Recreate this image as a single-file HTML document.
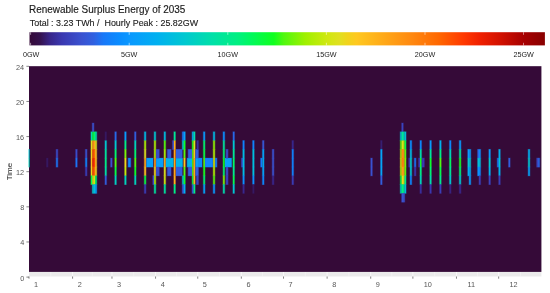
<!DOCTYPE html>
<html><head><meta charset="utf-8"><title>Renewable Surplus Energy of 2035</title>
<style>
html,body{margin:0;padding:0;background:#fff;}
body{width:550px;height:293px;overflow:hidden;font-family:"Liberation Sans",sans-serif;}
svg{display:block}
svg text{font-family:"Liberation Sans",sans-serif;}
</style></head>
<body>
<svg width="550" height="293" viewBox="0 0 550 293">
<defs><linearGradient id="tb" x1="0" y1="0" x2="1" y2="0"><stop offset="0.0000" stop-color="#350a38"/><stop offset="0.0206" stop-color="#35124e"/><stop offset="0.0398" stop-color="#38268a"/><stop offset="0.0628" stop-color="#3a38b0"/><stop offset="0.1012" stop-color="#3a52d0"/><stop offset="0.1243" stop-color="#3060e0"/><stop offset="0.1435" stop-color="#1878f8"/><stop offset="0.1742" stop-color="#0a8cff"/><stop offset="0.1934" stop-color="#0a98ff"/><stop offset="0.2472" stop-color="#00b0f0"/><stop offset="0.3010" stop-color="#00c8d0"/><stop offset="0.3548" stop-color="#00e0a8"/><stop offset="0.4047" stop-color="#00f080"/><stop offset="0.4278" stop-color="#00f860"/><stop offset="0.4739" stop-color="#10ff20"/><stop offset="0.4931" stop-color="#50f810"/><stop offset="0.5354" stop-color="#a0f000"/><stop offset="0.5776" stop-color="#d0e810"/><stop offset="0.6007" stop-color="#e0e020"/><stop offset="0.6160" stop-color="#f0d41c"/><stop offset="0.6352" stop-color="#ffc820"/><stop offset="0.6890" stop-color="#ffa818"/><stop offset="0.7428" stop-color="#ff8810"/><stop offset="0.7927" stop-color="#ff6800"/><stop offset="0.8427" stop-color="#ff3800"/><stop offset="0.8734" stop-color="#f02000"/><stop offset="0.9157" stop-color="#d01000"/><stop offset="0.9579" stop-color="#a80000"/><stop offset="1.0000" stop-color="#880000"/></linearGradient>
<filter id="bl" x="0" y="0" width="550" height="293" filterUnits="userSpaceOnUse"><feGaussianBlur stdDeviation="0.62 0.5"/></filter>
<clipPath id="pc"><rect x="28.4" y="66.2" width="513.0" height="210.3"/></clipPath></defs>
<rect width="550" height="293" fill="#ffffff"/>
<text x="29.0" y="12.7" font-size="10.3" textLength="156.4" lengthAdjust="spacingAndGlyphs" fill="#1a1a1a" stroke="#1a1a1a" stroke-width="0.15">Renewable Surplus Energy of 2035</text>
<text x="29.8" y="26.4" font-size="9.2" textLength="168.3" lengthAdjust="spacingAndGlyphs" fill="#1a1a1a" stroke="#1a1a1a" stroke-width="0.12" xml:space="preserve">Total : 3.23 TWh /  Hourly Peak : 25.82GW</text>
<rect x="29.5" y="32.2" width="515.4" height="13.2" fill="url(#tb)"/>
<g stroke="#ffffff" stroke-width="0.6" opacity="0.9"><line x1="30.60" y1="32.2" x2="30.60" y2="34.8"/><line x1="30.60" y1="42.8" x2="30.60" y2="45.4"/><line x1="129.20" y1="32.2" x2="129.20" y2="34.8"/><line x1="129.20" y1="42.8" x2="129.20" y2="45.4"/><line x1="227.80" y1="32.2" x2="227.80" y2="34.8"/><line x1="227.80" y1="42.8" x2="227.80" y2="45.4"/><line x1="326.40" y1="32.2" x2="326.40" y2="34.8"/><line x1="326.40" y1="42.8" x2="326.40" y2="45.4"/><line x1="425.00" y1="32.2" x2="425.00" y2="34.8"/><line x1="425.00" y1="42.8" x2="425.00" y2="45.4"/><line x1="523.60" y1="32.2" x2="523.60" y2="34.8"/><line x1="523.60" y1="42.8" x2="523.60" y2="45.4"/></g>
<g font-size="7.2" fill="#1a1a1a"><text x="31.10" y="56.7" text-anchor="middle">0GW</text><text x="129.20" y="56.7" text-anchor="middle">5GW</text><text x="227.80" y="56.7" text-anchor="middle">10GW</text><text x="326.40" y="56.7" text-anchor="middle">15GW</text><text x="425.00" y="56.7" text-anchor="middle">20GW</text><text x="523.60" y="56.7" text-anchor="middle">25GW</text></g>
<rect x="29.0" y="66.2" width="512.4" height="210.3" fill="#ebebeb"/>
<g stroke="#ffffff"><line x1="72.59" y1="271.9" x2="72.59" y2="276.50" stroke-width="0.7"/><line x1="111.97" y1="271.9" x2="111.97" y2="276.50" stroke-width="0.7"/><line x1="155.56" y1="271.9" x2="155.56" y2="276.50" stroke-width="0.7"/><line x1="197.74" y1="271.9" x2="197.74" y2="276.50" stroke-width="0.7"/><line x1="241.34" y1="271.9" x2="241.34" y2="276.50" stroke-width="0.7"/><line x1="283.52" y1="271.9" x2="283.52" y2="276.50" stroke-width="0.7"/><line x1="327.11" y1="271.9" x2="327.11" y2="276.50" stroke-width="0.7"/><line x1="370.71" y1="271.9" x2="370.71" y2="276.50" stroke-width="0.7"/><line x1="412.89" y1="271.9" x2="412.89" y2="276.50" stroke-width="0.7"/><line x1="456.48" y1="271.9" x2="456.48" y2="276.50" stroke-width="0.7"/><line x1="498.67" y1="271.9" x2="498.67" y2="276.50" stroke-width="0.7"/><line x1="50.80" y1="271.9" x2="50.80" y2="276.50" stroke-width="0.35"/><line x1="92.28" y1="271.9" x2="92.28" y2="276.50" stroke-width="0.35"/><line x1="133.76" y1="271.9" x2="133.76" y2="276.50" stroke-width="0.35"/><line x1="176.65" y1="271.9" x2="176.65" y2="276.50" stroke-width="0.35"/><line x1="219.54" y1="271.9" x2="219.54" y2="276.50" stroke-width="0.35"/><line x1="262.43" y1="271.9" x2="262.43" y2="276.50" stroke-width="0.35"/><line x1="305.32" y1="271.9" x2="305.32" y2="276.50" stroke-width="0.35"/><line x1="348.91" y1="271.9" x2="348.91" y2="276.50" stroke-width="0.35"/><line x1="391.80" y1="271.9" x2="391.80" y2="276.50" stroke-width="0.35"/><line x1="434.69" y1="271.9" x2="434.69" y2="276.50" stroke-width="0.35"/><line x1="477.58" y1="271.9" x2="477.58" y2="276.50" stroke-width="0.35"/><line x1="520.47" y1="271.9" x2="520.47" y2="276.50" stroke-width="0.35"/></g>
<rect x="29.0" y="66.2" width="512.4" height="205.70" fill="#350a38"/>
<g clip-path="url(#pc)"><g>
<g opacity="0.38"><rect x="145.75" y="157.71" width="7.90" height="9.76" fill="#079ffa"/>
<rect x="155.45" y="157.71" width="8.50" height="9.76" fill="#079ffa"/>
<rect x="165.15" y="157.71" width="9.00" height="9.76" fill="#00b5e9"/>
<rect x="175.35" y="157.71" width="7.90" height="9.76" fill="#00b5e9"/>
<rect x="186.55" y="157.71" width="6.10" height="9.76" fill="#00b5e9"/>
<rect x="194.75" y="157.71" width="4.80" height="9.76" fill="#079ffa"/>
<rect x="198.25" y="157.71" width="4.40" height="9.76" fill="#0c89fe"/>
<rect x="204.45" y="157.71" width="9.00" height="9.76" fill="#1083fc"/>
<rect x="214.65" y="157.71" width="2.80" height="9.76" fill="#1083fc"/>
<rect x="224.35" y="157.71" width="7.90" height="9.76" fill="#079ffa"/>
<rect x="127.55" y="157.71" width="3.70" height="9.76" fill="#0c89fe"/>
<rect x="240.95" y="157.71" width="2.50" height="9.76" fill="#325edd"/>
<rect x="260.05" y="157.71" width="2.80" height="9.76" fill="#157cfa"/>
<rect x="155.45" y="148.94" width="4.40" height="9.76" fill="#3a4bc8"/>
<rect x="155.45" y="166.47" width="4.40" height="9.76" fill="#3a4bc8"/>
<rect x="166.75" y="148.94" width="4.90" height="9.76" fill="#3658d7"/>
<rect x="166.75" y="166.47" width="4.90" height="9.76" fill="#3658d7"/>
<rect x="175.35" y="148.94" width="7.50" height="9.76" fill="#325edd"/>
<rect x="175.35" y="166.47" width="7.50" height="9.76" fill="#325edd"/>
<rect x="187.55" y="148.94" width="5.10" height="9.76" fill="#325edd"/>
<rect x="187.55" y="166.47" width="5.10" height="9.76" fill="#325edd"/>
<rect x="194.75" y="148.94" width="4.30" height="9.76" fill="#325edd"/>
<rect x="194.75" y="166.47" width="4.30" height="9.76" fill="#325edd"/>
<rect x="225.35" y="148.94" width="3.30" height="9.76" fill="#3a44bf"/>
<rect x="225.35" y="166.47" width="3.30" height="9.76" fill="#3a44bf"/>
<rect x="195.75" y="175.23" width="3.30" height="9.76" fill="#3a44bf"/>
<rect x="225.35" y="175.23" width="3.30" height="9.76" fill="#3a3eb7"/>
<rect x="196.25" y="140.18" width="2.80" height="9.76" fill="#392f9d"/>
<rect x="27.90" y="148.94" width="2.10" height="9.76" fill="#00c7d1"/>
<rect x="27.90" y="157.71" width="2.10" height="9.76" fill="#00d4bc"/>
<rect x="45.89" y="157.71" width="2.71" height="9.76" fill="#361962"/>
<rect x="55.62" y="148.94" width="2.71" height="9.76" fill="#3a4bc8"/>
<rect x="55.62" y="157.71" width="2.71" height="9.76" fill="#1c74f4"/>
<rect x="75.08" y="148.94" width="2.71" height="9.76" fill="#3a4bc8"/>
<rect x="75.08" y="157.71" width="2.71" height="9.76" fill="#1c74f4"/>
<rect x="84.81" y="148.94" width="2.71" height="9.76" fill="#3a52d0"/>
<rect x="84.81" y="157.71" width="2.71" height="9.76" fill="#1083fc"/>
<rect x="84.81" y="166.47" width="2.71" height="9.76" fill="#3a3eb7"/>
<rect x="91.73" y="122.66" width="2.71" height="9.76" fill="#3a52d0"/>
<rect x="90.33" y="131.42" width="2.71" height="9.76" fill="#00ddad"/>
<rect x="91.73" y="131.42" width="2.71" height="9.76" fill="#07fb46"/>
<rect x="93.14" y="131.42" width="2.71" height="9.76" fill="#00f861"/>
<rect x="94.54" y="131.42" width="2.71" height="9.76" fill="#00ddad"/>
<rect x="90.33" y="140.18" width="2.71" height="9.76" fill="#dce21c"/>
<rect x="91.73" y="140.18" width="2.71" height="9.76" fill="#ff9914"/>
<rect x="93.14" y="140.18" width="2.71" height="9.76" fill="#ffa517"/>
<rect x="94.54" y="140.18" width="2.71" height="9.76" fill="#dce21c"/>
<rect x="90.33" y="148.94" width="2.71" height="9.76" fill="#efd51c"/>
<rect x="91.73" y="148.94" width="2.71" height="9.76" fill="#ff5500"/>
<rect x="93.14" y="148.94" width="2.71" height="9.76" fill="#ff6800"/>
<rect x="94.54" y="148.94" width="2.71" height="9.76" fill="#ffc31f"/>
<rect x="90.33" y="157.71" width="2.71" height="9.76" fill="#ffc31f"/>
<rect x="91.73" y="157.71" width="2.71" height="9.76" fill="#f62900"/>
<rect x="93.14" y="157.71" width="2.71" height="9.76" fill="#ff4200"/>
<rect x="94.54" y="157.71" width="2.71" height="9.76" fill="#ffbd1d"/>
<rect x="90.33" y="166.47" width="2.71" height="9.76" fill="#efd51c"/>
<rect x="91.73" y="166.47" width="2.71" height="9.76" fill="#ff4c00"/>
<rect x="93.14" y="166.47" width="2.71" height="9.76" fill="#ff6800"/>
<rect x="94.54" y="166.47" width="2.71" height="9.76" fill="#f7cf1e"/>
<rect x="90.33" y="175.23" width="2.71" height="9.76" fill="#07fb46"/>
<rect x="91.73" y="175.23" width="2.71" height="9.76" fill="#dce21c"/>
<rect x="93.14" y="175.23" width="2.71" height="9.76" fill="#cde80f"/>
<rect x="94.54" y="175.23" width="2.71" height="9.76" fill="#00f46f"/>
<rect x="91.73" y="183.99" width="2.71" height="9.76" fill="#00c7d1"/>
<rect x="93.14" y="183.99" width="2.71" height="9.76" fill="#00bedd"/>
<rect x="94.54" y="183.99" width="2.71" height="9.76" fill="#05a4f8"/>
<rect x="104.39" y="131.42" width="2.71" height="9.76" fill="#361962"/>
<rect x="104.39" y="140.18" width="2.71" height="9.76" fill="#00c7d1"/>
<rect x="104.39" y="148.94" width="2.71" height="9.76" fill="#00e49e"/>
<rect x="104.39" y="157.71" width="2.71" height="9.76" fill="#00ee86"/>
<rect x="104.39" y="166.47" width="2.71" height="9.76" fill="#00e1a6"/>
<rect x="104.39" y="175.23" width="2.71" height="9.76" fill="#325edd"/>
<rect x="110.01" y="157.71" width="2.71" height="9.76" fill="#3a52d0"/>
<rect x="114.23" y="131.42" width="2.71" height="9.76" fill="#2868e8"/>
<rect x="114.23" y="140.18" width="2.71" height="9.76" fill="#00c7d1"/>
<rect x="114.23" y="148.94" width="2.71" height="9.76" fill="#00f46f"/>
<rect x="114.23" y="157.71" width="2.71" height="9.76" fill="#56f70f"/>
<rect x="114.23" y="166.47" width="2.71" height="9.76" fill="#07fb46"/>
<rect x="114.23" y="175.23" width="2.71" height="9.76" fill="#00d0c3"/>
<rect x="124.07" y="131.42" width="2.71" height="9.76" fill="#099bfd"/>
<rect x="124.07" y="140.18" width="2.71" height="9.76" fill="#00ee86"/>
<rect x="124.07" y="148.94" width="2.71" height="9.76" fill="#7bf407"/>
<rect x="124.07" y="157.71" width="2.71" height="9.76" fill="#efd51c"/>
<rect x="124.07" y="166.47" width="2.71" height="9.76" fill="#c2ea0b"/>
<rect x="124.07" y="175.23" width="2.71" height="9.76" fill="#00d4bc"/>
<rect x="133.92" y="131.42" width="2.71" height="9.76" fill="#325edd"/>
<rect x="133.92" y="140.18" width="2.71" height="9.76" fill="#00d4bc"/>
<rect x="133.92" y="148.94" width="2.71" height="9.76" fill="#00f46f"/>
<rect x="133.92" y="157.71" width="2.71" height="9.76" fill="#56f70f"/>
<rect x="133.92" y="166.47" width="2.71" height="9.76" fill="#0dfe2a"/>
<rect x="133.92" y="175.23" width="2.71" height="9.76" fill="#00d4bc"/>
<rect x="143.76" y="131.42" width="2.71" height="9.76" fill="#00bae3"/>
<rect x="143.76" y="140.18" width="2.71" height="9.76" fill="#acee04"/>
<rect x="143.76" y="148.94" width="2.71" height="9.76" fill="#dce21c"/>
<rect x="143.76" y="157.71" width="2.71" height="9.76" fill="#ffa517"/>
<rect x="143.76" y="166.47" width="2.71" height="9.76" fill="#ffc31f"/>
<rect x="143.76" y="175.23" width="2.71" height="9.76" fill="#07fb46"/>
<rect x="143.76" y="183.99" width="2.71" height="9.76" fill="#3a3eb7"/>
<rect x="152.20" y="175.23" width="2.71" height="9.76" fill="#3a4bc8"/>
<rect x="153.60" y="131.42" width="2.71" height="9.76" fill="#00c7d1"/>
<rect x="153.60" y="140.18" width="2.71" height="9.76" fill="#acee04"/>
<rect x="153.60" y="148.94" width="2.71" height="9.76" fill="#acee04"/>
<rect x="153.60" y="157.71" width="2.71" height="9.76" fill="#ff9914"/>
<rect x="153.60" y="166.47" width="2.71" height="9.76" fill="#efd51c"/>
<rect x="153.60" y="175.23" width="2.71" height="9.76" fill="#acee04"/>
<rect x="153.60" y="183.99" width="2.71" height="9.76" fill="#00e49e"/>
<rect x="163.45" y="131.42" width="2.71" height="9.76" fill="#00bedd"/>
<rect x="163.45" y="140.18" width="2.71" height="9.76" fill="#56f70f"/>
<rect x="163.45" y="148.94" width="2.71" height="9.76" fill="#acee04"/>
<rect x="163.45" y="157.71" width="2.71" height="9.76" fill="#ffa517"/>
<rect x="163.45" y="166.47" width="2.71" height="9.76" fill="#dce21c"/>
<rect x="163.45" y="175.23" width="2.71" height="9.76" fill="#cde80f"/>
<rect x="163.45" y="183.99" width="2.71" height="9.76" fill="#00e49e"/>
<rect x="171.89" y="140.18" width="2.71" height="9.76" fill="#3a52d0"/>
<rect x="173.29" y="131.42" width="2.71" height="9.76" fill="#00e796"/>
<rect x="173.29" y="140.18" width="2.71" height="9.76" fill="#ffb11a"/>
<rect x="173.29" y="148.94" width="2.71" height="9.76" fill="#ffa517"/>
<rect x="173.29" y="157.71" width="2.71" height="9.76" fill="#ffa517"/>
<rect x="173.29" y="166.47" width="2.71" height="9.76" fill="#ffa517"/>
<rect x="173.29" y="175.23" width="2.71" height="9.76" fill="#ffb11a"/>
<rect x="173.29" y="183.99" width="2.71" height="9.76" fill="#00ee86"/>
<rect x="181.73" y="131.42" width="2.71" height="9.76" fill="#157cfa"/>
<rect x="181.73" y="140.18" width="2.71" height="9.76" fill="#00c7d1"/>
<rect x="181.73" y="175.23" width="2.71" height="9.76" fill="#00c7d1"/>
<rect x="181.73" y="183.99" width="2.71" height="9.76" fill="#325edd"/>
<rect x="183.14" y="131.42" width="2.71" height="9.76" fill="#05a4f8"/>
<rect x="183.14" y="140.18" width="2.71" height="9.76" fill="#0dfe2a"/>
<rect x="183.14" y="148.94" width="2.71" height="9.76" fill="#56f70f"/>
<rect x="183.14" y="157.71" width="2.71" height="9.76" fill="#ffc31f"/>
<rect x="183.14" y="166.47" width="2.71" height="9.76" fill="#56f70f"/>
<rect x="183.14" y="175.23" width="2.71" height="9.76" fill="#0dfe2a"/>
<rect x="183.14" y="183.99" width="2.71" height="9.76" fill="#00b1ef"/>
<rect x="191.57" y="131.42" width="2.71" height="9.76" fill="#00b1ef"/>
<rect x="191.57" y="140.18" width="2.71" height="9.76" fill="#18fe1e"/>
<rect x="191.57" y="148.94" width="2.71" height="9.76" fill="#56f70f"/>
<rect x="191.57" y="157.71" width="2.71" height="9.76" fill="#56f70f"/>
<rect x="191.57" y="166.47" width="2.71" height="9.76" fill="#56f70f"/>
<rect x="191.57" y="175.23" width="2.71" height="9.76" fill="#07fb46"/>
<rect x="191.57" y="183.99" width="2.71" height="9.76" fill="#325edd"/>
<rect x="192.98" y="131.42" width="2.71" height="9.76" fill="#00ddad"/>
<rect x="192.98" y="140.18" width="2.71" height="9.76" fill="#dce21c"/>
<rect x="192.98" y="148.94" width="2.71" height="9.76" fill="#ffc31f"/>
<rect x="192.98" y="157.71" width="2.71" height="9.76" fill="#ff9914"/>
<rect x="192.98" y="166.47" width="2.71" height="9.76" fill="#ffa517"/>
<rect x="192.98" y="175.23" width="2.71" height="9.76" fill="#ffb11a"/>
<rect x="192.98" y="183.99" width="2.71" height="9.76" fill="#00ee86"/>
<rect x="202.82" y="131.42" width="2.71" height="9.76" fill="#099bfd"/>
<rect x="202.82" y="140.18" width="2.71" height="9.76" fill="#00f46f"/>
<rect x="202.82" y="148.94" width="2.71" height="9.76" fill="#07fb46"/>
<rect x="202.82" y="157.71" width="2.71" height="9.76" fill="#56f70f"/>
<rect x="202.82" y="166.47" width="2.71" height="9.76" fill="#18fe1e"/>
<rect x="202.82" y="175.23" width="2.71" height="9.76" fill="#00f46f"/>
<rect x="202.82" y="183.99" width="2.71" height="9.76" fill="#05a4f8"/>
<rect x="212.67" y="131.42" width="2.71" height="9.76" fill="#00bae3"/>
<rect x="212.67" y="140.18" width="2.71" height="9.76" fill="#8ef204"/>
<rect x="212.67" y="148.94" width="2.71" height="9.76" fill="#acee04"/>
<rect x="212.67" y="157.71" width="2.71" height="9.76" fill="#cde80f"/>
<rect x="212.67" y="166.47" width="2.71" height="9.76" fill="#acee04"/>
<rect x="212.67" y="175.23" width="2.71" height="9.76" fill="#56f70f"/>
<rect x="212.67" y="183.99" width="2.71" height="9.76" fill="#099bfd"/>
<rect x="222.51" y="131.42" width="2.71" height="9.76" fill="#0a90ff"/>
<rect x="222.51" y="140.18" width="2.71" height="9.76" fill="#00e49e"/>
<rect x="222.51" y="148.94" width="2.71" height="9.76" fill="#00f46f"/>
<rect x="222.51" y="157.71" width="2.71" height="9.76" fill="#0dfe2a"/>
<rect x="222.51" y="166.47" width="2.71" height="9.76" fill="#00f46f"/>
<rect x="222.51" y="175.23" width="2.71" height="9.76" fill="#7bf407"/>
<rect x="222.51" y="183.99" width="2.71" height="9.76" fill="#00ddad"/>
<rect x="232.35" y="131.42" width="2.71" height="9.76" fill="#2868e8"/>
<rect x="232.35" y="140.18" width="2.71" height="9.76" fill="#00c7d1"/>
<rect x="232.35" y="148.94" width="2.71" height="9.76" fill="#00e796"/>
<rect x="232.35" y="157.71" width="2.71" height="9.76" fill="#00f861"/>
<rect x="232.35" y="166.47" width="2.71" height="9.76" fill="#00ea8e"/>
<rect x="232.35" y="175.23" width="2.71" height="9.76" fill="#03f953"/>
<rect x="232.35" y="183.99" width="2.71" height="9.76" fill="#00c7d1"/>
<rect x="242.20" y="140.18" width="2.71" height="9.76" fill="#1083fc"/>
<rect x="242.20" y="148.94" width="2.71" height="9.76" fill="#00bae3"/>
<rect x="242.20" y="157.71" width="2.71" height="9.76" fill="#00bae3"/>
<rect x="242.20" y="166.47" width="2.71" height="9.76" fill="#00bae3"/>
<rect x="242.20" y="175.23" width="2.71" height="9.76" fill="#0a90ff"/>
<rect x="242.20" y="183.99" width="2.71" height="9.76" fill="#38278d"/>
<rect x="252.04" y="140.18" width="2.71" height="9.76" fill="#1083fc"/>
<rect x="252.04" y="148.94" width="2.71" height="9.76" fill="#00bedd"/>
<rect x="252.04" y="157.71" width="2.71" height="9.76" fill="#00bedd"/>
<rect x="252.04" y="166.47" width="2.71" height="9.76" fill="#00bedd"/>
<rect x="252.04" y="175.23" width="2.71" height="9.76" fill="#0a90ff"/>
<rect x="252.04" y="183.99" width="2.71" height="9.76" fill="#361962"/>
<rect x="261.88" y="140.18" width="2.71" height="9.76" fill="#3658d7"/>
<rect x="261.88" y="148.94" width="2.71" height="9.76" fill="#05a4f8"/>
<rect x="261.88" y="157.71" width="2.71" height="9.76" fill="#01acf2"/>
<rect x="261.88" y="166.47" width="2.71" height="9.76" fill="#05a4f8"/>
<rect x="261.88" y="175.23" width="2.71" height="9.76" fill="#0c89fe"/>
<rect x="271.73" y="148.94" width="2.71" height="9.76" fill="#3a52d0"/>
<rect x="271.73" y="157.71" width="2.71" height="9.76" fill="#3a52d0"/>
<rect x="271.73" y="166.47" width="2.71" height="9.76" fill="#3a52d0"/>
<rect x="271.73" y="175.23" width="2.71" height="9.76" fill="#38278d"/>
<rect x="291.41" y="140.18" width="2.71" height="9.76" fill="#38278d"/>
<rect x="291.41" y="148.94" width="2.71" height="9.76" fill="#1083fc"/>
<rect x="291.41" y="157.71" width="2.71" height="9.76" fill="#1083fc"/>
<rect x="291.41" y="166.47" width="2.71" height="9.76" fill="#1083fc"/>
<rect x="291.41" y="175.23" width="2.71" height="9.76" fill="#3a3eb7"/>
<rect x="370.16" y="157.71" width="2.71" height="9.76" fill="#3a52d0"/>
<rect x="370.16" y="166.47" width="2.71" height="9.76" fill="#3a52d0"/>
<rect x="380.00" y="140.18" width="2.71" height="9.76" fill="#371e71"/>
<rect x="380.00" y="148.94" width="2.71" height="9.76" fill="#05a4f8"/>
<rect x="380.00" y="157.71" width="2.71" height="9.76" fill="#05a4f8"/>
<rect x="380.00" y="166.47" width="2.71" height="9.76" fill="#05a4f8"/>
<rect x="380.00" y="175.23" width="2.71" height="9.76" fill="#325edd"/>
<rect x="401.10" y="122.66" width="2.71" height="9.76" fill="#3a44bf"/>
<rect x="399.69" y="131.42" width="2.71" height="9.76" fill="#00c7d1"/>
<rect x="401.10" y="131.42" width="2.71" height="9.76" fill="#00e796"/>
<rect x="402.50" y="131.42" width="2.71" height="9.76" fill="#00e1a6"/>
<rect x="403.91" y="131.42" width="2.71" height="9.76" fill="#00bedd"/>
<rect x="399.69" y="140.18" width="2.71" height="9.76" fill="#56f70f"/>
<rect x="401.10" y="140.18" width="2.71" height="9.76" fill="#dce21c"/>
<rect x="402.50" y="140.18" width="2.71" height="9.76" fill="#cde80f"/>
<rect x="403.91" y="140.18" width="2.71" height="9.76" fill="#07fb46"/>
<rect x="399.69" y="148.94" width="2.71" height="9.76" fill="#acee04"/>
<rect x="401.10" y="148.94" width="2.71" height="9.76" fill="#ff8810"/>
<rect x="402.50" y="148.94" width="2.71" height="9.76" fill="#ff9914"/>
<rect x="403.91" y="148.94" width="2.71" height="9.76" fill="#56f70f"/>
<rect x="399.69" y="157.71" width="2.71" height="9.76" fill="#cde80f"/>
<rect x="401.10" y="157.71" width="2.71" height="9.76" fill="#ff7b0a"/>
<rect x="402.50" y="157.71" width="2.71" height="9.76" fill="#ff8e11"/>
<rect x="403.91" y="157.71" width="2.71" height="9.76" fill="#7bf407"/>
<rect x="399.69" y="166.47" width="2.71" height="9.76" fill="#acee04"/>
<rect x="401.10" y="166.47" width="2.71" height="9.76" fill="#ff9914"/>
<rect x="402.50" y="166.47" width="2.71" height="9.76" fill="#ffa517"/>
<rect x="403.91" y="166.47" width="2.71" height="9.76" fill="#56f70f"/>
<rect x="399.69" y="175.23" width="2.71" height="9.76" fill="#07fb46"/>
<rect x="401.10" y="175.23" width="2.71" height="9.76" fill="#efd51c"/>
<rect x="402.50" y="175.23" width="2.71" height="9.76" fill="#dce21c"/>
<rect x="403.91" y="175.23" width="2.71" height="9.76" fill="#00ee86"/>
<rect x="399.69" y="183.99" width="2.71" height="9.76" fill="#00d4bc"/>
<rect x="401.10" y="183.99" width="2.71" height="9.76" fill="#00f17d"/>
<rect x="402.50" y="183.99" width="2.71" height="9.76" fill="#00ee86"/>
<rect x="403.91" y="183.99" width="2.71" height="9.76" fill="#00bedd"/>
<rect x="401.10" y="192.76" width="2.71" height="9.76" fill="#3a52d0"/>
<rect x="402.50" y="192.76" width="2.71" height="9.76" fill="#3a52d0"/>
<rect x="408.13" y="157.71" width="2.71" height="9.76" fill="#3a37ae"/>
<rect x="409.53" y="140.18" width="2.71" height="9.76" fill="#0a90ff"/>
<rect x="409.53" y="148.94" width="2.71" height="9.76" fill="#00bae3"/>
<rect x="409.53" y="157.71" width="2.71" height="9.76" fill="#00d0c3"/>
<rect x="409.53" y="166.47" width="2.71" height="9.76" fill="#00c7d1"/>
<rect x="409.53" y="175.23" width="2.71" height="9.76" fill="#0c89fe"/>
<rect x="413.75" y="157.71" width="2.71" height="9.76" fill="#1c74f4"/>
<rect x="413.75" y="166.47" width="2.71" height="9.76" fill="#3a37ae"/>
<rect x="417.97" y="157.71" width="2.71" height="9.76" fill="#3a3ab3"/>
<rect x="420.78" y="157.71" width="2.71" height="9.76" fill="#3a3ab3"/>
<rect x="422.19" y="157.71" width="2.71" height="9.76" fill="#3a3ab3"/>
<rect x="419.38" y="140.18" width="2.71" height="9.76" fill="#0c89fe"/>
<rect x="419.38" y="148.94" width="2.71" height="9.76" fill="#00ddad"/>
<rect x="419.38" y="157.71" width="2.71" height="9.76" fill="#18fe1e"/>
<rect x="419.38" y="166.47" width="2.71" height="9.76" fill="#00ee86"/>
<rect x="419.38" y="175.23" width="2.71" height="9.76" fill="#00d4bc"/>
<rect x="419.38" y="183.99" width="2.71" height="9.76" fill="#392f9d"/>
<rect x="429.22" y="140.18" width="2.71" height="9.76" fill="#099bfd"/>
<rect x="429.22" y="148.94" width="2.71" height="9.76" fill="#00e49e"/>
<rect x="429.22" y="157.71" width="2.71" height="9.76" fill="#0dfe2a"/>
<rect x="429.22" y="166.47" width="2.71" height="9.76" fill="#00f46f"/>
<rect x="429.22" y="175.23" width="2.71" height="9.76" fill="#00ddad"/>
<rect x="429.22" y="183.99" width="2.71" height="9.76" fill="#3a37ae"/>
<rect x="439.06" y="140.18" width="2.71" height="9.76" fill="#00b1ef"/>
<rect x="439.06" y="148.94" width="2.71" height="9.76" fill="#00ee86"/>
<rect x="439.06" y="157.71" width="2.71" height="9.76" fill="#56f70f"/>
<rect x="439.06" y="166.47" width="2.71" height="9.76" fill="#07fb46"/>
<rect x="439.06" y="175.23" width="2.71" height="9.76" fill="#00ea8e"/>
<rect x="439.06" y="183.99" width="2.71" height="9.76" fill="#3a3eb7"/>
<rect x="448.91" y="140.18" width="2.71" height="9.76" fill="#0c89fe"/>
<rect x="448.91" y="148.94" width="2.71" height="9.76" fill="#00d4bc"/>
<rect x="448.91" y="157.71" width="2.71" height="9.76" fill="#00f861"/>
<rect x="448.91" y="166.47" width="2.71" height="9.76" fill="#00e796"/>
<rect x="448.91" y="175.23" width="2.71" height="9.76" fill="#00c7d1"/>
<rect x="448.91" y="183.99" width="2.71" height="9.76" fill="#382380"/>
<rect x="458.75" y="140.18" width="2.71" height="9.76" fill="#099bfd"/>
<rect x="458.75" y="148.94" width="2.71" height="9.76" fill="#00e49e"/>
<rect x="458.75" y="157.71" width="2.71" height="9.76" fill="#18fe1e"/>
<rect x="458.75" y="166.47" width="2.71" height="9.76" fill="#00f46f"/>
<rect x="458.75" y="175.23" width="2.71" height="9.76" fill="#00c7d1"/>
<rect x="458.75" y="183.99" width="2.71" height="9.76" fill="#38278d"/>
<rect x="467.19" y="148.94" width="2.71" height="9.76" fill="#099bfd"/>
<rect x="467.19" y="157.71" width="2.71" height="9.76" fill="#00c7d1"/>
<rect x="467.19" y="166.47" width="2.71" height="9.76" fill="#01acf2"/>
<rect x="468.59" y="148.94" width="2.71" height="9.76" fill="#099bfd"/>
<rect x="468.59" y="157.71" width="2.71" height="9.76" fill="#00c7d1"/>
<rect x="468.59" y="166.47" width="2.71" height="9.76" fill="#01acf2"/>
<rect x="468.59" y="175.23" width="2.71" height="9.76" fill="#099bfd"/>
<rect x="477.03" y="148.94" width="2.71" height="9.76" fill="#2868e8"/>
<rect x="477.03" y="157.71" width="2.71" height="9.76" fill="#00bedd"/>
<rect x="477.03" y="166.47" width="2.71" height="9.76" fill="#0a90ff"/>
<rect x="478.44" y="148.94" width="2.71" height="9.76" fill="#0a90ff"/>
<rect x="478.44" y="157.71" width="2.71" height="9.76" fill="#00bedd"/>
<rect x="478.44" y="166.47" width="2.71" height="9.76" fill="#0a90ff"/>
<rect x="478.44" y="175.23" width="2.71" height="9.76" fill="#3a3eb7"/>
<rect x="488.28" y="148.94" width="2.71" height="9.76" fill="#099bfd"/>
<rect x="488.28" y="157.71" width="2.71" height="9.76" fill="#00c7d1"/>
<rect x="488.28" y="166.47" width="2.71" height="9.76" fill="#00b1ef"/>
<rect x="488.28" y="175.23" width="2.71" height="9.76" fill="#3a44bf"/>
<rect x="496.72" y="157.71" width="2.71" height="9.76" fill="#157cfa"/>
<rect x="498.12" y="148.94" width="2.71" height="9.76" fill="#00b1ef"/>
<rect x="498.12" y="157.71" width="2.71" height="9.76" fill="#00c7d1"/>
<rect x="498.12" y="166.47" width="2.71" height="9.76" fill="#00b1ef"/>
<rect x="498.12" y="175.23" width="2.71" height="9.76" fill="#3a3eb7"/>
<rect x="507.97" y="157.71" width="2.71" height="9.76" fill="#325edd"/>
<rect x="527.65" y="148.94" width="2.71" height="9.76" fill="#00b1ef"/>
<rect x="527.65" y="157.71" width="2.71" height="9.76" fill="#00c7d1"/>
<rect x="527.65" y="166.47" width="2.71" height="9.76" fill="#05a4f8"/>
<rect x="536.09" y="157.71" width="2.71" height="9.76" fill="#3a44bf"/>
<rect x="537.50" y="157.71" width="2.71" height="9.76" fill="#2868e8"/></g>
<rect x="146.40" y="158.06" width="6.60" height="9.06" fill="#079ffa"/>
<rect x="156.10" y="158.06" width="7.20" height="9.06" fill="#079ffa"/>
<rect x="165.80" y="158.06" width="7.70" height="9.06" fill="#00b5e9"/>
<rect x="176.00" y="158.06" width="6.60" height="9.06" fill="#00b5e9"/>
<rect x="187.20" y="158.06" width="4.80" height="9.06" fill="#00b5e9"/>
<rect x="195.40" y="158.06" width="3.50" height="9.06" fill="#079ffa"/>
<rect x="198.90" y="158.06" width="3.10" height="9.06" fill="#0c89fe"/>
<rect x="205.10" y="158.06" width="7.70" height="9.06" fill="#1083fc"/>
<rect x="215.30" y="158.06" width="1.50" height="9.06" fill="#1083fc"/>
<rect x="225.00" y="158.06" width="6.60" height="9.06" fill="#079ffa"/>
<rect x="128.20" y="158.06" width="2.40" height="9.06" fill="#0c89fe"/>
<rect x="241.60" y="158.06" width="1.20" height="9.06" fill="#325edd"/>
<rect x="260.70" y="158.06" width="1.50" height="9.06" fill="#157cfa"/>
<rect x="156.10" y="149.29" width="3.10" height="9.06" fill="#3a4bc8"/>
<rect x="156.10" y="166.82" width="3.10" height="9.06" fill="#3a4bc8"/>
<rect x="167.40" y="149.29" width="3.60" height="9.06" fill="#3658d7"/>
<rect x="167.40" y="166.82" width="3.60" height="9.06" fill="#3658d7"/>
<rect x="176.00" y="149.29" width="6.20" height="9.06" fill="#325edd"/>
<rect x="176.00" y="166.82" width="6.20" height="9.06" fill="#325edd"/>
<rect x="188.20" y="149.29" width="3.80" height="9.06" fill="#325edd"/>
<rect x="188.20" y="166.82" width="3.80" height="9.06" fill="#325edd"/>
<rect x="195.40" y="149.29" width="3.00" height="9.06" fill="#325edd"/>
<rect x="195.40" y="166.82" width="3.00" height="9.06" fill="#325edd"/>
<rect x="226.00" y="149.29" width="2.00" height="9.06" fill="#3a44bf"/>
<rect x="226.00" y="166.82" width="2.00" height="9.06" fill="#3a44bf"/>
<rect x="196.40" y="175.58" width="2.00" height="9.06" fill="#3a44bf"/>
<rect x="226.00" y="175.58" width="2.00" height="9.06" fill="#3a3eb7"/>
<rect x="196.90" y="140.53" width="1.50" height="9.06" fill="#392f9d"/>
<rect x="28.55" y="149.29" width="0.80" height="9.06" fill="#00c7d1"/>
<rect x="28.55" y="158.06" width="0.80" height="9.06" fill="#00d4bc"/>
<rect x="46.54" y="158.06" width="1.41" height="9.06" fill="#361962"/>
<rect x="56.27" y="149.29" width="1.41" height="9.06" fill="#3a4bc8"/>
<rect x="56.27" y="158.06" width="1.41" height="9.06" fill="#1c74f4"/>
<rect x="75.73" y="149.29" width="1.41" height="9.06" fill="#3a4bc8"/>
<rect x="75.73" y="158.06" width="1.41" height="9.06" fill="#1c74f4"/>
<rect x="85.46" y="149.29" width="1.41" height="9.06" fill="#3a52d0"/>
<rect x="85.46" y="158.06" width="1.41" height="9.06" fill="#1083fc"/>
<rect x="85.46" y="166.82" width="1.41" height="9.06" fill="#3a3eb7"/>
<rect x="92.38" y="123.01" width="1.41" height="9.06" fill="#3a52d0"/>
<rect x="90.98" y="131.77" width="1.41" height="9.06" fill="#00ddad"/>
<rect x="92.38" y="131.77" width="1.41" height="9.06" fill="#07fb46"/>
<rect x="93.79" y="131.77" width="1.41" height="9.06" fill="#00f861"/>
<rect x="95.19" y="131.77" width="1.41" height="9.06" fill="#00ddad"/>
<rect x="90.98" y="140.53" width="1.41" height="9.06" fill="#dce21c"/>
<rect x="92.38" y="140.53" width="1.41" height="9.06" fill="#ff9914"/>
<rect x="93.79" y="140.53" width="1.41" height="9.06" fill="#ffa517"/>
<rect x="95.19" y="140.53" width="1.41" height="9.06" fill="#dce21c"/>
<rect x="90.98" y="149.29" width="1.41" height="9.06" fill="#efd51c"/>
<rect x="92.38" y="149.29" width="1.41" height="9.06" fill="#ff5500"/>
<rect x="93.79" y="149.29" width="1.41" height="9.06" fill="#ff6800"/>
<rect x="95.19" y="149.29" width="1.41" height="9.06" fill="#ffc31f"/>
<rect x="90.98" y="158.06" width="1.41" height="9.06" fill="#ffc31f"/>
<rect x="92.38" y="158.06" width="1.41" height="9.06" fill="#f62900"/>
<rect x="93.79" y="158.06" width="1.41" height="9.06" fill="#ff4200"/>
<rect x="95.19" y="158.06" width="1.41" height="9.06" fill="#ffbd1d"/>
<rect x="90.98" y="166.82" width="1.41" height="9.06" fill="#efd51c"/>
<rect x="92.38" y="166.82" width="1.41" height="9.06" fill="#ff4c00"/>
<rect x="93.79" y="166.82" width="1.41" height="9.06" fill="#ff6800"/>
<rect x="95.19" y="166.82" width="1.41" height="9.06" fill="#f7cf1e"/>
<rect x="90.98" y="175.58" width="1.41" height="9.06" fill="#07fb46"/>
<rect x="92.38" y="175.58" width="1.41" height="9.06" fill="#dce21c"/>
<rect x="93.79" y="175.58" width="1.41" height="9.06" fill="#cde80f"/>
<rect x="95.19" y="175.58" width="1.41" height="9.06" fill="#00f46f"/>
<rect x="92.38" y="184.34" width="1.41" height="9.06" fill="#00c7d1"/>
<rect x="93.79" y="184.34" width="1.41" height="9.06" fill="#00bedd"/>
<rect x="95.19" y="184.34" width="1.41" height="9.06" fill="#05a4f8"/>
<rect x="105.04" y="131.77" width="1.41" height="9.06" fill="#361962"/>
<rect x="105.04" y="140.53" width="1.41" height="9.06" fill="#00c7d1"/>
<rect x="105.04" y="149.29" width="1.41" height="9.06" fill="#00e49e"/>
<rect x="105.04" y="158.06" width="1.41" height="9.06" fill="#00ee86"/>
<rect x="105.04" y="166.82" width="1.41" height="9.06" fill="#00e1a6"/>
<rect x="105.04" y="175.58" width="1.41" height="9.06" fill="#325edd"/>
<rect x="110.66" y="158.06" width="1.41" height="9.06" fill="#3a52d0"/>
<rect x="114.88" y="131.77" width="1.41" height="9.06" fill="#2868e8"/>
<rect x="114.88" y="140.53" width="1.41" height="9.06" fill="#00c7d1"/>
<rect x="114.88" y="149.29" width="1.41" height="9.06" fill="#00f46f"/>
<rect x="114.88" y="158.06" width="1.41" height="9.06" fill="#56f70f"/>
<rect x="114.88" y="166.82" width="1.41" height="9.06" fill="#07fb46"/>
<rect x="114.88" y="175.58" width="1.41" height="9.06" fill="#00d0c3"/>
<rect x="124.72" y="131.77" width="1.41" height="9.06" fill="#099bfd"/>
<rect x="124.72" y="140.53" width="1.41" height="9.06" fill="#00ee86"/>
<rect x="124.72" y="149.29" width="1.41" height="9.06" fill="#7bf407"/>
<rect x="124.72" y="158.06" width="1.41" height="9.06" fill="#efd51c"/>
<rect x="124.72" y="166.82" width="1.41" height="9.06" fill="#c2ea0b"/>
<rect x="124.72" y="175.58" width="1.41" height="9.06" fill="#00d4bc"/>
<rect x="134.57" y="131.77" width="1.41" height="9.06" fill="#325edd"/>
<rect x="134.57" y="140.53" width="1.41" height="9.06" fill="#00d4bc"/>
<rect x="134.57" y="149.29" width="1.41" height="9.06" fill="#00f46f"/>
<rect x="134.57" y="158.06" width="1.41" height="9.06" fill="#56f70f"/>
<rect x="134.57" y="166.82" width="1.41" height="9.06" fill="#0dfe2a"/>
<rect x="134.57" y="175.58" width="1.41" height="9.06" fill="#00d4bc"/>
<rect x="144.41" y="131.77" width="1.41" height="9.06" fill="#00bae3"/>
<rect x="144.41" y="140.53" width="1.41" height="9.06" fill="#acee04"/>
<rect x="144.41" y="149.29" width="1.41" height="9.06" fill="#dce21c"/>
<rect x="144.41" y="158.06" width="1.41" height="9.06" fill="#ffa517"/>
<rect x="144.41" y="166.82" width="1.41" height="9.06" fill="#ffc31f"/>
<rect x="144.41" y="175.58" width="1.41" height="9.06" fill="#07fb46"/>
<rect x="144.41" y="184.34" width="1.41" height="9.06" fill="#3a3eb7"/>
<rect x="152.85" y="175.58" width="1.41" height="9.06" fill="#3a4bc8"/>
<rect x="154.25" y="131.77" width="1.41" height="9.06" fill="#00c7d1"/>
<rect x="154.25" y="140.53" width="1.41" height="9.06" fill="#acee04"/>
<rect x="154.25" y="149.29" width="1.41" height="9.06" fill="#acee04"/>
<rect x="154.25" y="158.06" width="1.41" height="9.06" fill="#ff9914"/>
<rect x="154.25" y="166.82" width="1.41" height="9.06" fill="#efd51c"/>
<rect x="154.25" y="175.58" width="1.41" height="9.06" fill="#acee04"/>
<rect x="154.25" y="184.34" width="1.41" height="9.06" fill="#00e49e"/>
<rect x="164.10" y="131.77" width="1.41" height="9.06" fill="#00bedd"/>
<rect x="164.10" y="140.53" width="1.41" height="9.06" fill="#56f70f"/>
<rect x="164.10" y="149.29" width="1.41" height="9.06" fill="#acee04"/>
<rect x="164.10" y="158.06" width="1.41" height="9.06" fill="#ffa517"/>
<rect x="164.10" y="166.82" width="1.41" height="9.06" fill="#dce21c"/>
<rect x="164.10" y="175.58" width="1.41" height="9.06" fill="#cde80f"/>
<rect x="164.10" y="184.34" width="1.41" height="9.06" fill="#00e49e"/>
<rect x="172.54" y="140.53" width="1.41" height="9.06" fill="#3a52d0"/>
<rect x="173.94" y="131.77" width="1.41" height="9.06" fill="#00e796"/>
<rect x="173.94" y="140.53" width="1.41" height="9.06" fill="#ffb11a"/>
<rect x="173.94" y="149.29" width="1.41" height="9.06" fill="#ffa517"/>
<rect x="173.94" y="158.06" width="1.41" height="9.06" fill="#ffa517"/>
<rect x="173.94" y="166.82" width="1.41" height="9.06" fill="#ffa517"/>
<rect x="173.94" y="175.58" width="1.41" height="9.06" fill="#ffb11a"/>
<rect x="173.94" y="184.34" width="1.41" height="9.06" fill="#00ee86"/>
<rect x="182.38" y="131.77" width="1.41" height="9.06" fill="#157cfa"/>
<rect x="182.38" y="140.53" width="1.41" height="9.06" fill="#00c7d1"/>
<rect x="182.38" y="175.58" width="1.41" height="9.06" fill="#00c7d1"/>
<rect x="182.38" y="184.34" width="1.41" height="9.06" fill="#325edd"/>
<rect x="183.79" y="131.77" width="1.41" height="9.06" fill="#05a4f8"/>
<rect x="183.79" y="140.53" width="1.41" height="9.06" fill="#0dfe2a"/>
<rect x="183.79" y="149.29" width="1.41" height="9.06" fill="#56f70f"/>
<rect x="183.79" y="158.06" width="1.41" height="9.06" fill="#ffc31f"/>
<rect x="183.79" y="166.82" width="1.41" height="9.06" fill="#56f70f"/>
<rect x="183.79" y="175.58" width="1.41" height="9.06" fill="#0dfe2a"/>
<rect x="183.79" y="184.34" width="1.41" height="9.06" fill="#00b1ef"/>
<rect x="192.22" y="131.77" width="1.41" height="9.06" fill="#00b1ef"/>
<rect x="192.22" y="140.53" width="1.41" height="9.06" fill="#18fe1e"/>
<rect x="192.22" y="149.29" width="1.41" height="9.06" fill="#56f70f"/>
<rect x="192.22" y="158.06" width="1.41" height="9.06" fill="#56f70f"/>
<rect x="192.22" y="166.82" width="1.41" height="9.06" fill="#56f70f"/>
<rect x="192.22" y="175.58" width="1.41" height="9.06" fill="#07fb46"/>
<rect x="192.22" y="184.34" width="1.41" height="9.06" fill="#325edd"/>
<rect x="193.63" y="131.77" width="1.41" height="9.06" fill="#00ddad"/>
<rect x="193.63" y="140.53" width="1.41" height="9.06" fill="#dce21c"/>
<rect x="193.63" y="149.29" width="1.41" height="9.06" fill="#ffc31f"/>
<rect x="193.63" y="158.06" width="1.41" height="9.06" fill="#ff9914"/>
<rect x="193.63" y="166.82" width="1.41" height="9.06" fill="#ffa517"/>
<rect x="193.63" y="175.58" width="1.41" height="9.06" fill="#ffb11a"/>
<rect x="193.63" y="184.34" width="1.41" height="9.06" fill="#00ee86"/>
<rect x="203.47" y="131.77" width="1.41" height="9.06" fill="#099bfd"/>
<rect x="203.47" y="140.53" width="1.41" height="9.06" fill="#00f46f"/>
<rect x="203.47" y="149.29" width="1.41" height="9.06" fill="#07fb46"/>
<rect x="203.47" y="158.06" width="1.41" height="9.06" fill="#56f70f"/>
<rect x="203.47" y="166.82" width="1.41" height="9.06" fill="#18fe1e"/>
<rect x="203.47" y="175.58" width="1.41" height="9.06" fill="#00f46f"/>
<rect x="203.47" y="184.34" width="1.41" height="9.06" fill="#05a4f8"/>
<rect x="213.32" y="131.77" width="1.41" height="9.06" fill="#00bae3"/>
<rect x="213.32" y="140.53" width="1.41" height="9.06" fill="#8ef204"/>
<rect x="213.32" y="149.29" width="1.41" height="9.06" fill="#acee04"/>
<rect x="213.32" y="158.06" width="1.41" height="9.06" fill="#cde80f"/>
<rect x="213.32" y="166.82" width="1.41" height="9.06" fill="#acee04"/>
<rect x="213.32" y="175.58" width="1.41" height="9.06" fill="#56f70f"/>
<rect x="213.32" y="184.34" width="1.41" height="9.06" fill="#099bfd"/>
<rect x="223.16" y="131.77" width="1.41" height="9.06" fill="#0a90ff"/>
<rect x="223.16" y="140.53" width="1.41" height="9.06" fill="#00e49e"/>
<rect x="223.16" y="149.29" width="1.41" height="9.06" fill="#00f46f"/>
<rect x="223.16" y="158.06" width="1.41" height="9.06" fill="#0dfe2a"/>
<rect x="223.16" y="166.82" width="1.41" height="9.06" fill="#00f46f"/>
<rect x="223.16" y="175.58" width="1.41" height="9.06" fill="#7bf407"/>
<rect x="223.16" y="184.34" width="1.41" height="9.06" fill="#00ddad"/>
<rect x="233.00" y="131.77" width="1.41" height="9.06" fill="#2868e8"/>
<rect x="233.00" y="140.53" width="1.41" height="9.06" fill="#00c7d1"/>
<rect x="233.00" y="149.29" width="1.41" height="9.06" fill="#00e796"/>
<rect x="233.00" y="158.06" width="1.41" height="9.06" fill="#00f861"/>
<rect x="233.00" y="166.82" width="1.41" height="9.06" fill="#00ea8e"/>
<rect x="233.00" y="175.58" width="1.41" height="9.06" fill="#03f953"/>
<rect x="233.00" y="184.34" width="1.41" height="9.06" fill="#00c7d1"/>
<rect x="242.85" y="140.53" width="1.41" height="9.06" fill="#1083fc"/>
<rect x="242.85" y="149.29" width="1.41" height="9.06" fill="#00bae3"/>
<rect x="242.85" y="158.06" width="1.41" height="9.06" fill="#00bae3"/>
<rect x="242.85" y="166.82" width="1.41" height="9.06" fill="#00bae3"/>
<rect x="242.85" y="175.58" width="1.41" height="9.06" fill="#0a90ff"/>
<rect x="242.85" y="184.34" width="1.41" height="9.06" fill="#38278d"/>
<rect x="252.69" y="140.53" width="1.41" height="9.06" fill="#1083fc"/>
<rect x="252.69" y="149.29" width="1.41" height="9.06" fill="#00bedd"/>
<rect x="252.69" y="158.06" width="1.41" height="9.06" fill="#00bedd"/>
<rect x="252.69" y="166.82" width="1.41" height="9.06" fill="#00bedd"/>
<rect x="252.69" y="175.58" width="1.41" height="9.06" fill="#0a90ff"/>
<rect x="252.69" y="184.34" width="1.41" height="9.06" fill="#361962"/>
<rect x="262.53" y="140.53" width="1.41" height="9.06" fill="#3658d7"/>
<rect x="262.53" y="149.29" width="1.41" height="9.06" fill="#05a4f8"/>
<rect x="262.53" y="158.06" width="1.41" height="9.06" fill="#01acf2"/>
<rect x="262.53" y="166.82" width="1.41" height="9.06" fill="#05a4f8"/>
<rect x="262.53" y="175.58" width="1.41" height="9.06" fill="#0c89fe"/>
<rect x="272.38" y="149.29" width="1.41" height="9.06" fill="#3a52d0"/>
<rect x="272.38" y="158.06" width="1.41" height="9.06" fill="#3a52d0"/>
<rect x="272.38" y="166.82" width="1.41" height="9.06" fill="#3a52d0"/>
<rect x="272.38" y="175.58" width="1.41" height="9.06" fill="#38278d"/>
<rect x="292.06" y="140.53" width="1.41" height="9.06" fill="#38278d"/>
<rect x="292.06" y="149.29" width="1.41" height="9.06" fill="#1083fc"/>
<rect x="292.06" y="158.06" width="1.41" height="9.06" fill="#1083fc"/>
<rect x="292.06" y="166.82" width="1.41" height="9.06" fill="#1083fc"/>
<rect x="292.06" y="175.58" width="1.41" height="9.06" fill="#3a3eb7"/>
<rect x="370.81" y="158.06" width="1.41" height="9.06" fill="#3a52d0"/>
<rect x="370.81" y="166.82" width="1.41" height="9.06" fill="#3a52d0"/>
<rect x="380.65" y="140.53" width="1.41" height="9.06" fill="#371e71"/>
<rect x="380.65" y="149.29" width="1.41" height="9.06" fill="#05a4f8"/>
<rect x="380.65" y="158.06" width="1.41" height="9.06" fill="#05a4f8"/>
<rect x="380.65" y="166.82" width="1.41" height="9.06" fill="#05a4f8"/>
<rect x="380.65" y="175.58" width="1.41" height="9.06" fill="#325edd"/>
<rect x="401.75" y="123.01" width="1.41" height="9.06" fill="#3a44bf"/>
<rect x="400.34" y="131.77" width="1.41" height="9.06" fill="#00c7d1"/>
<rect x="401.75" y="131.77" width="1.41" height="9.06" fill="#00e796"/>
<rect x="403.15" y="131.77" width="1.41" height="9.06" fill="#00e1a6"/>
<rect x="404.56" y="131.77" width="1.41" height="9.06" fill="#00bedd"/>
<rect x="400.34" y="140.53" width="1.41" height="9.06" fill="#56f70f"/>
<rect x="401.75" y="140.53" width="1.41" height="9.06" fill="#dce21c"/>
<rect x="403.15" y="140.53" width="1.41" height="9.06" fill="#cde80f"/>
<rect x="404.56" y="140.53" width="1.41" height="9.06" fill="#07fb46"/>
<rect x="400.34" y="149.29" width="1.41" height="9.06" fill="#acee04"/>
<rect x="401.75" y="149.29" width="1.41" height="9.06" fill="#ff8810"/>
<rect x="403.15" y="149.29" width="1.41" height="9.06" fill="#ff9914"/>
<rect x="404.56" y="149.29" width="1.41" height="9.06" fill="#56f70f"/>
<rect x="400.34" y="158.06" width="1.41" height="9.06" fill="#cde80f"/>
<rect x="401.75" y="158.06" width="1.41" height="9.06" fill="#ff7b0a"/>
<rect x="403.15" y="158.06" width="1.41" height="9.06" fill="#ff8e11"/>
<rect x="404.56" y="158.06" width="1.41" height="9.06" fill="#7bf407"/>
<rect x="400.34" y="166.82" width="1.41" height="9.06" fill="#acee04"/>
<rect x="401.75" y="166.82" width="1.41" height="9.06" fill="#ff9914"/>
<rect x="403.15" y="166.82" width="1.41" height="9.06" fill="#ffa517"/>
<rect x="404.56" y="166.82" width="1.41" height="9.06" fill="#56f70f"/>
<rect x="400.34" y="175.58" width="1.41" height="9.06" fill="#07fb46"/>
<rect x="401.75" y="175.58" width="1.41" height="9.06" fill="#efd51c"/>
<rect x="403.15" y="175.58" width="1.41" height="9.06" fill="#dce21c"/>
<rect x="404.56" y="175.58" width="1.41" height="9.06" fill="#00ee86"/>
<rect x="400.34" y="184.34" width="1.41" height="9.06" fill="#00d4bc"/>
<rect x="401.75" y="184.34" width="1.41" height="9.06" fill="#00f17d"/>
<rect x="403.15" y="184.34" width="1.41" height="9.06" fill="#00ee86"/>
<rect x="404.56" y="184.34" width="1.41" height="9.06" fill="#00bedd"/>
<rect x="401.75" y="193.11" width="1.41" height="9.06" fill="#3a52d0"/>
<rect x="403.15" y="193.11" width="1.41" height="9.06" fill="#3a52d0"/>
<rect x="408.78" y="158.06" width="1.41" height="9.06" fill="#3a37ae"/>
<rect x="410.18" y="140.53" width="1.41" height="9.06" fill="#0a90ff"/>
<rect x="410.18" y="149.29" width="1.41" height="9.06" fill="#00bae3"/>
<rect x="410.18" y="158.06" width="1.41" height="9.06" fill="#00d0c3"/>
<rect x="410.18" y="166.82" width="1.41" height="9.06" fill="#00c7d1"/>
<rect x="410.18" y="175.58" width="1.41" height="9.06" fill="#0c89fe"/>
<rect x="414.40" y="158.06" width="1.41" height="9.06" fill="#1c74f4"/>
<rect x="414.40" y="166.82" width="1.41" height="9.06" fill="#3a37ae"/>
<rect x="418.62" y="158.06" width="1.41" height="9.06" fill="#3a3ab3"/>
<rect x="421.43" y="158.06" width="1.41" height="9.06" fill="#3a3ab3"/>
<rect x="422.84" y="158.06" width="1.41" height="9.06" fill="#3a3ab3"/>
<rect x="420.03" y="140.53" width="1.41" height="9.06" fill="#0c89fe"/>
<rect x="420.03" y="149.29" width="1.41" height="9.06" fill="#00ddad"/>
<rect x="420.03" y="158.06" width="1.41" height="9.06" fill="#18fe1e"/>
<rect x="420.03" y="166.82" width="1.41" height="9.06" fill="#00ee86"/>
<rect x="420.03" y="175.58" width="1.41" height="9.06" fill="#00d4bc"/>
<rect x="420.03" y="184.34" width="1.41" height="9.06" fill="#392f9d"/>
<rect x="429.87" y="140.53" width="1.41" height="9.06" fill="#099bfd"/>
<rect x="429.87" y="149.29" width="1.41" height="9.06" fill="#00e49e"/>
<rect x="429.87" y="158.06" width="1.41" height="9.06" fill="#0dfe2a"/>
<rect x="429.87" y="166.82" width="1.41" height="9.06" fill="#00f46f"/>
<rect x="429.87" y="175.58" width="1.41" height="9.06" fill="#00ddad"/>
<rect x="429.87" y="184.34" width="1.41" height="9.06" fill="#3a37ae"/>
<rect x="439.71" y="140.53" width="1.41" height="9.06" fill="#00b1ef"/>
<rect x="439.71" y="149.29" width="1.41" height="9.06" fill="#00ee86"/>
<rect x="439.71" y="158.06" width="1.41" height="9.06" fill="#56f70f"/>
<rect x="439.71" y="166.82" width="1.41" height="9.06" fill="#07fb46"/>
<rect x="439.71" y="175.58" width="1.41" height="9.06" fill="#00ea8e"/>
<rect x="439.71" y="184.34" width="1.41" height="9.06" fill="#3a3eb7"/>
<rect x="449.56" y="140.53" width="1.41" height="9.06" fill="#0c89fe"/>
<rect x="449.56" y="149.29" width="1.41" height="9.06" fill="#00d4bc"/>
<rect x="449.56" y="158.06" width="1.41" height="9.06" fill="#00f861"/>
<rect x="449.56" y="166.82" width="1.41" height="9.06" fill="#00e796"/>
<rect x="449.56" y="175.58" width="1.41" height="9.06" fill="#00c7d1"/>
<rect x="449.56" y="184.34" width="1.41" height="9.06" fill="#382380"/>
<rect x="459.40" y="140.53" width="1.41" height="9.06" fill="#099bfd"/>
<rect x="459.40" y="149.29" width="1.41" height="9.06" fill="#00e49e"/>
<rect x="459.40" y="158.06" width="1.41" height="9.06" fill="#18fe1e"/>
<rect x="459.40" y="166.82" width="1.41" height="9.06" fill="#00f46f"/>
<rect x="459.40" y="175.58" width="1.41" height="9.06" fill="#00c7d1"/>
<rect x="459.40" y="184.34" width="1.41" height="9.06" fill="#38278d"/>
<rect x="467.84" y="149.29" width="1.41" height="9.06" fill="#099bfd"/>
<rect x="467.84" y="158.06" width="1.41" height="9.06" fill="#00c7d1"/>
<rect x="467.84" y="166.82" width="1.41" height="9.06" fill="#01acf2"/>
<rect x="469.24" y="149.29" width="1.41" height="9.06" fill="#099bfd"/>
<rect x="469.24" y="158.06" width="1.41" height="9.06" fill="#00c7d1"/>
<rect x="469.24" y="166.82" width="1.41" height="9.06" fill="#01acf2"/>
<rect x="469.24" y="175.58" width="1.41" height="9.06" fill="#099bfd"/>
<rect x="477.68" y="149.29" width="1.41" height="9.06" fill="#2868e8"/>
<rect x="477.68" y="158.06" width="1.41" height="9.06" fill="#00bedd"/>
<rect x="477.68" y="166.82" width="1.41" height="9.06" fill="#0a90ff"/>
<rect x="479.09" y="149.29" width="1.41" height="9.06" fill="#0a90ff"/>
<rect x="479.09" y="158.06" width="1.41" height="9.06" fill="#00bedd"/>
<rect x="479.09" y="166.82" width="1.41" height="9.06" fill="#0a90ff"/>
<rect x="479.09" y="175.58" width="1.41" height="9.06" fill="#3a3eb7"/>
<rect x="488.93" y="149.29" width="1.41" height="9.06" fill="#099bfd"/>
<rect x="488.93" y="158.06" width="1.41" height="9.06" fill="#00c7d1"/>
<rect x="488.93" y="166.82" width="1.41" height="9.06" fill="#00b1ef"/>
<rect x="488.93" y="175.58" width="1.41" height="9.06" fill="#3a44bf"/>
<rect x="497.37" y="158.06" width="1.41" height="9.06" fill="#157cfa"/>
<rect x="498.77" y="149.29" width="1.41" height="9.06" fill="#00b1ef"/>
<rect x="498.77" y="158.06" width="1.41" height="9.06" fill="#00c7d1"/>
<rect x="498.77" y="166.82" width="1.41" height="9.06" fill="#00b1ef"/>
<rect x="498.77" y="175.58" width="1.41" height="9.06" fill="#3a3eb7"/>
<rect x="508.62" y="158.06" width="1.41" height="9.06" fill="#325edd"/>
<rect x="528.30" y="149.29" width="1.41" height="9.06" fill="#00b1ef"/>
<rect x="528.30" y="158.06" width="1.41" height="9.06" fill="#00c7d1"/>
<rect x="528.30" y="166.82" width="1.41" height="9.06" fill="#05a4f8"/>
<rect x="536.74" y="158.06" width="1.41" height="9.06" fill="#3a44bf"/>
<rect x="538.15" y="158.06" width="1.41" height="9.06" fill="#2868e8"/>
</g></g>
<g stroke="#333333" stroke-width="0.6"><line x1="29.00" y1="276.50" x2="29.00" y2="278.70"/><line x1="72.59" y1="276.50" x2="72.59" y2="278.70"/><line x1="111.97" y1="276.50" x2="111.97" y2="278.70"/><line x1="155.56" y1="276.50" x2="155.56" y2="278.70"/><line x1="197.74" y1="276.50" x2="197.74" y2="278.70"/><line x1="241.34" y1="276.50" x2="241.34" y2="278.70"/><line x1="283.52" y1="276.50" x2="283.52" y2="278.70"/><line x1="327.11" y1="276.50" x2="327.11" y2="278.70"/><line x1="370.71" y1="276.50" x2="370.71" y2="278.70"/><line x1="412.89" y1="276.50" x2="412.89" y2="278.70"/><line x1="456.48" y1="276.50" x2="456.48" y2="278.70"/><line x1="498.67" y1="276.50" x2="498.67" y2="278.70"/><line x1="26.40" y1="277.10" x2="29.00" y2="277.10"/><line x1="26.40" y1="241.97" x2="29.00" y2="241.97"/><line x1="26.40" y1="206.84" x2="29.00" y2="206.84"/><line x1="26.40" y1="171.70" x2="29.00" y2="171.70"/><line x1="26.40" y1="136.57" x2="29.00" y2="136.57"/><line x1="26.40" y1="101.44" x2="29.00" y2="101.44"/><line x1="26.40" y1="66.31" x2="29.00" y2="66.31"/></g>
<g font-size="7.3" fill="#575757"><text x="36.10" y="287.2" text-anchor="middle">1</text><text x="79.69" y="287.2" text-anchor="middle">2</text><text x="119.07" y="287.2" text-anchor="middle">3</text><text x="162.66" y="287.2" text-anchor="middle">4</text><text x="204.84" y="287.2" text-anchor="middle">5</text><text x="248.44" y="287.2" text-anchor="middle">6</text><text x="290.62" y="287.2" text-anchor="middle">7</text><text x="334.21" y="287.2" text-anchor="middle">8</text><text x="377.81" y="287.2" text-anchor="middle">9</text><text x="427.69" y="287.2" text-anchor="middle">10</text><text x="471.28" y="287.2" text-anchor="middle">11</text><text x="513.47" y="287.2" text-anchor="middle">12</text><text x="24.2" y="280.60" text-anchor="end">0</text><text x="24.2" y="245.47" text-anchor="end">4</text><text x="24.2" y="210.34" text-anchor="end">8</text><text x="24.2" y="175.20" text-anchor="end">12</text><text x="24.2" y="140.07" text-anchor="end">16</text><text x="24.2" y="104.94" text-anchor="end">20</text><text x="24.2" y="69.81" text-anchor="end">24</text></g>
<text transform="translate(11.5,171.6) rotate(-90)" text-anchor="middle" font-size="8" fill="#1a1a1a">Time</text>
</svg>
</body></html>
